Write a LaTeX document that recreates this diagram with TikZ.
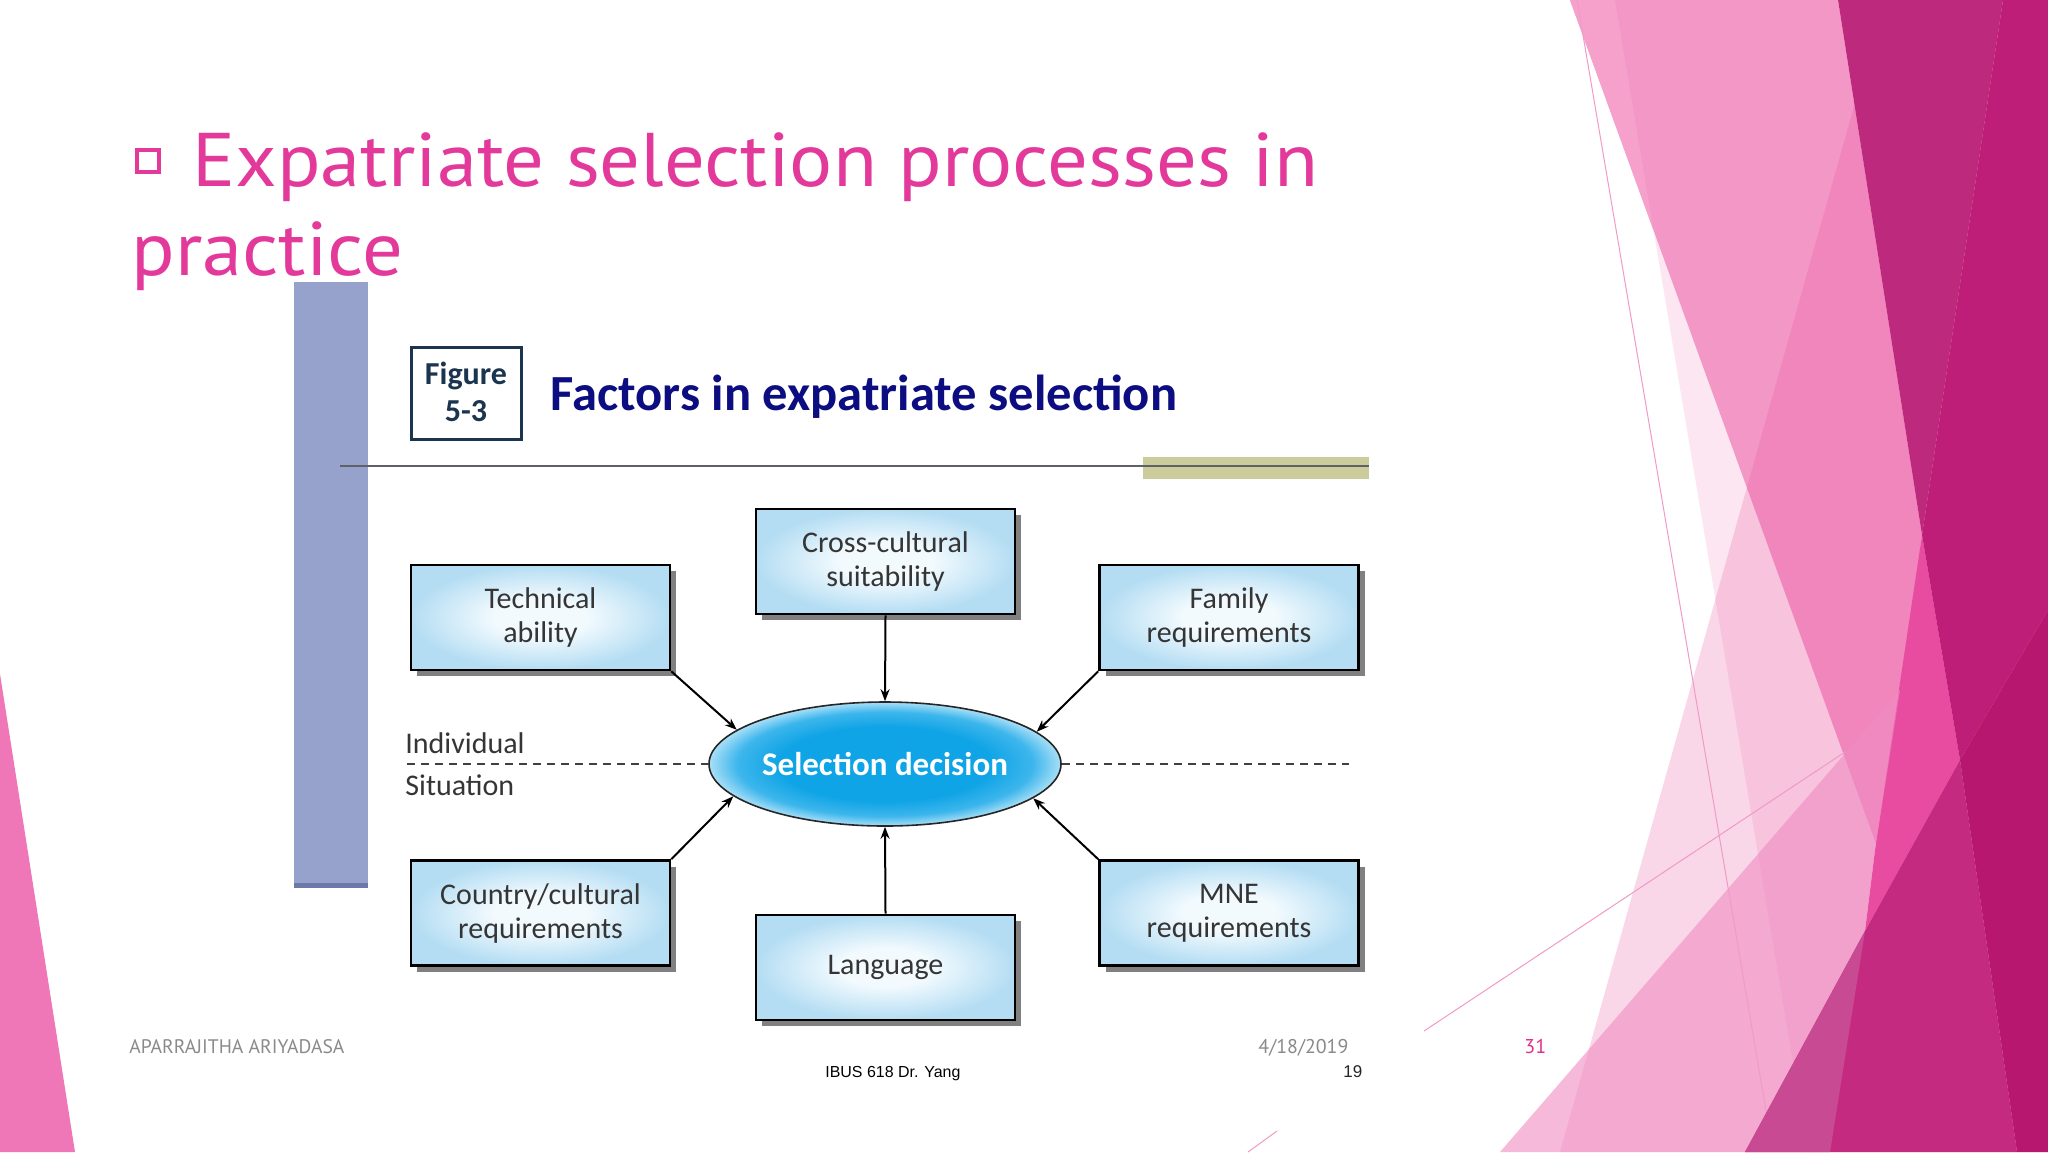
\documentclass[tikz,border=0pt]{standalone}
\usepackage{fontspec}
\setmainfont{Carlito}
\newfontfamily\ttlfont{PT Sans}
\newfontfamily\arialf{Liberation Sans}
\usetikzlibrary{shapes.geometric,shadows,arrows.meta}
\definecolor{ttlpink}{HTML}{E2399B}
\definecolor{navyt}{HTML}{0D0D82}
\definecolor{figc}{HTML}{1B3550}
\definecolor{barc}{HTML}{97A2CC}
\definecolor{barcd}{HTML}{6C78A8}
\definecolor{olive}{HTML}{CBCB9B}
\definecolor{rulec}{HTML}{5E6166}
\definecolor{boxin}{HTML}{F2FAFE}
\definecolor{boxout}{HTML}{B4DDF3}
\definecolor{ellin}{HTML}{0FA4E6}
\definecolor{ellmid}{HTML}{3DB6EC}
\definecolor{ellout}{HTML}{A9DFF7}
\definecolor{txtc}{HTML}{353535}
\definecolor{footg}{HTML}{8A8A8A}
\definecolor{pgA}{HTML}{F397C6}
\definecolor{pgAtop}{HTML}{F5A1CC}
\definecolor{pgS2}{HTML}{FCE6F1}
\definecolor{pgS3}{RGB}{234,84,159}
\definecolor{pgS4}{RGB}{240,139,193}
\definecolor{pgBand}{HTML}{BD2A7D}
\definecolor{pgDark}{HTML}{BE1E78}
\definecolor{pgHot}{HTML}{E84CA0}
\definecolor{pgR1}{HTML}{C52A81}
\definecolor{pgR2}{HTML}{B8176F}
\definecolor{pgR3}{HTML}{C84A92}
\definecolor{pgLeft}{HTML}{F077B7}
\definecolor{pgLine}{HTML}{F09BC6}
\definecolor{numpink}{HTML}{E0308A}
\pgfdeclareradialshading{boxshade}{\pgfpoint{0bp}{0bp}}{color(0bp)=(boxin); color(9bp)=(boxin); color(25bp)=(boxout); color(50bp)=(boxout)}
\pgfdeclareradialshading{ellshade}{\pgfpoint{0bp}{0bp}}{color(0bp)=(ellin); color(15bp)=(ellin); color(21bp)=(ellmid); color(25bp)=(ellout); color(50bp)=(ellout)}
\newlength\ttlw
\tikzset{
  factor/.style={draw=black, line width=1.3pt, shading=boxshade, minimum width=129.5pt, minimum height=52.5pt, inner sep=0pt, align=center, font=\fontsize{15}{17}\selectfont, text=txtc, drop shadow={shadow xshift=3pt, shadow yshift=-3pt, fill=black!50, opacity=1}},
  decision/.style={ellipse, draw=black!85, line width=0.8pt, shading=ellshade, minimum width=176pt, minimum height=62pt, inner sep=0pt, font=\bfseries\fontsize{16.5}{18}\selectfont, text=white},
  feed/.style={line width=1pt, -{Stealth[length=6pt,width=4.5pt]}},
  divider/.style={dash pattern=on 4pt off 3pt, line width=0.9pt, draw=black!75},
  sidelabel/.style={anchor=west, inner sep=0pt, font=\fontsize{15}{17}\selectfont, text=txtc},
  ttltext/.style={anchor=base west, inner sep=0pt, text=ttlpink, font=\ttlfont\fontsize{38}{44}\selectfont},
  foottext/.style={anchor=base west, inner sep=0pt},
  facetline/.style={draw=pgLine, line width=0.5pt},
}
\begin{document}
\settowidth{\ttlw}{\ttlfont\fontsize{38}{44}\selectfont Expatriate selection processes in}%
\pgfmathsetmacro\ttlsx{563/\ttlw}%
\begin{tikzpicture}[x=0.5pt,y=-0.5pt]
\useasboundingbox (0,0) rectangle (2048,1152);
\fill[white] (0,0) rectangle (2048,1152);
% background facets
\fill[pgS2] (1615,0) -- (1808,1152) -- (2048,1152) -- (2048,0) -- cycle;
\fill[pgA] (1570,0) -- (1838,0) -- (1922,535) -- (1879,852) -- cycle;
\fill[pgAtop] (1570,0) -- (1615,0) -- (1653.6,230.5) -- cycle;
\fill[pgS3, opacity=0.24] (1853,110) -- (1560,1152) -- (2048,1152) -- (2048,0) -- (1870,0) -- cycle;
\fill[pgHot] (1922,535) -- (1960,760) -- (1865,931) -- (1875,850) -- cycle;
\fill[pgS4, opacity=0.6] (1500,1152) -- (1900,690) -- (1875,850) -- (1865,931) -- (1745,1152) -- cycle;
\draw[facetline] (1577,0) -- (1773,1152);
\draw[facetline] (1424,1031) -- (1845,752);
\draw[facetline] (1248,1152) -- (1277,1131);
\fill[pgBand] (1838,0) -- (2003,0) -- (1922,535) -- cycle;
\fill[pgDark] (2003,0) -- (2048,0) -- (2048,610) -- (1960,760) -- (1922,535) -- cycle;
\fill[pgR1] (1865,931) -- (1960,760) -- (2017,1152) -- (1745,1152) -- cycle;
\fill[pgR2] (1960,760) -- (2048,610) -- (2048,1152) -- (2017,1152) -- cycle;
\fill[pgR3] (1865,931) -- (1830,1152) -- (1745,1152) -- cycle;
\fill[pgLeft] (0,674) -- (75,1152) -- (0,1152) -- cycle;
% slide title
\draw[ttlpink, line width=2pt] (137,150) rectangle (159,172);
\node[ttltext] (ttl1) at (192,186) {\scalebox{\ttlsx}[1]{Expatriate selection processes in}};
\node[ttltext] (ttl2) at (131,275) {\scalebox{\ttlsx}[1]{practice}};
% figure frame
\fill[barc] (294,282) rectangle (368,888);
\fill[barcd] (294,883) rectangle (368,888);
\draw[figc, line width=1.5pt] (411,347) rectangle (521,439);
\node[font=\bfseries\fontsize{16}{18.5}\selectfont, text=figc, align=center, inner sep=0pt] (figlab) at (466,392) {Figure\\5-3};
\node[anchor=base west, inner sep=0pt, font=\bfseries\fontsize{25.3}{30}\selectfont, text=navyt] (ftitle) at (550,410) {Factors in expatriate selection};
\fill[olive] (1143,457) rectangle (1369,479);
\draw[rulec, line width=1.2pt] (340,466) -- (1369,466);
% factor boxes
\node[factor] (cross) at (885.5,561.5) {Cross-cultural\\suitability};
\node[factor] (tech) at (540.5,617.5) {Technical\\ability};
\node[factor] (family) at (1229,617.5) {Family\\requirements};
\node[factor] (country) at (540.5,913) {Country/cultural\\requirements};
\node[factor] (mne) at (1229,913) {MNE\\requirements};
\node[factor] (lang) at (885.5,967.5) {Language};
% decision
\node[decision] (sel) at (885,764) {Selection decision};
\coordinate (dl) at (407,764);
\coordinate (dr) at (1349,764);
\draw[divider] (dl) -- (sel.west);
\draw[divider] (sel.east) -- (dr);
\node[sidelabel] (indiv) at (405,743) {Individual};
\node[sidelabel] (situ) at (405,785) {Situation};
% connectors
\draw[feed] (tech.south east) -- (sel.167.7);
\draw[feed] (cross.south) -- (sel.north);
\draw[feed] (family.south west) -- (sel.12.3);
\draw[feed] (country.north east) -- (sel.192.3);
\draw[feed] (lang.north) -- (sel.south);
\draw[feed] (mne.north west) -- (sel.347.7);
% footer
\node[foottext, text=footg, font=\ttlfont\fontsize{10}{12}\selectfont] (auth) at (129,1053) {\resizebox{107.5pt}{!}{APARRAJITHA ARIYADASA}};
\node[foottext, text=footg, font=\ttlfont\fontsize{10}{12}\selectfont] (date) at (1258,1053) {\resizebox{45pt}{!}{4/18/2019}};
\node[foottext, text=numpink, font=\ttlfont\fontsize{10}{12}\selectfont] (pnum) at (1524,1053) {31};
\node[foottext, text=black, font=\arialf\fontsize{9}{11}\selectfont] (ibus) at (825,1077) {\resizebox{67.5pt}{!}{IBUS 618 Dr. Yang}};
\node[foottext, text=black!85, font=\arialf\fontsize{8.5}{10}\selectfont] (snum) at (1343,1077) {19};
\end{tikzpicture}
\end{document}
